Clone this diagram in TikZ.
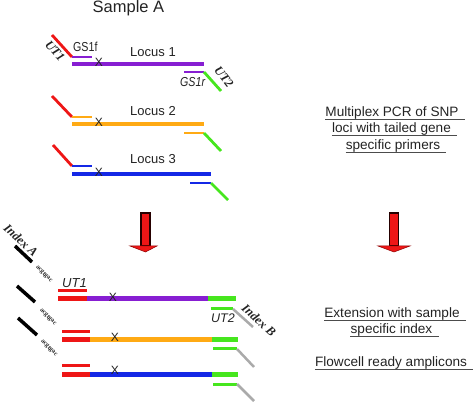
\documentclass[tikz,border=0pt]{standalone}
\usepackage{fontspec}
\usepackage{graphicx}
\setmainfont{Liberation Sans}
\newfontfamily\serifx{Liberation Serif}
\definecolor{cred}{RGB}{238,22,22}
\definecolor{cpur}{RGB}{135,30,210}
\definecolor{corg}{RGB}{255,170,20}
\definecolor{cblu}{RGB}{20,40,230}
\definecolor{cgrn}{RGB}{70,230,30}
\definecolor{cgry}{RGB}{170,170,170}
\definecolor{ctxt}{RGB}{35,35,35}
\newcommand{\narrow}[1]{\scalebox{0.82}[1]{#1}}
\tikzset{
  mainbar/.style={line width=4.5pt},
  shortbar/.style={line width=2.5pt},
  tailline/.style={line width=2.8pt},
  bmain/.style={line width=5pt},
  bshort/.style={line width=3pt},
  idxline/.style={line width=3.5pt,black},
  greyline/.style={line width=2.5pt,cgry},
  lbl/.style={inner sep=0pt,text=ctxt},
  locuslbl/.style={lbl,anchor=base,font=\fontsize{13}{15}\selectfont},
  xmark/.style={lbl,font=\fontsize{12}{13}\selectfont},
  gslbl/.style={lbl,font=\fontsize{13}{14}\selectfont},
  utser/.style={lbl,font=\serifx\bfseries\itshape\fontsize{12.5}{14}\selectfont},
  idxlbl/.style={lbl,font=\serifx\bfseries\itshape\fontsize{12.5}{14}\selectfont},
  seqlbl/.style={lbl,font=\serifx\bfseries\fontsize{6.5}{8}\selectfont},
  rtxt/.style={lbl,anchor=base,font=\fontsize{13.6}{16}\selectfont},
  uline/.style={line width=0.8pt,black!70},
  ashaft/.style={fill=cred,draw=black!85!red,line width=1.1pt},
  ahead/.style={fill=cred,draw=red!55!black,line width=0.5pt}
}
\begin{document}
\begin{tikzpicture}[x=1pt,y=-1pt]
\useasboundingbox (0,0) rectangle (474,403);
% title
\node[lbl,anchor=base,font=\fontsize{16.5}{18}\selectfont] (title) at (128.5,13) {Sample A};
% ---------- Locus 1 ----------
\draw[tailline,cred] (52,35) -- (72,57);
\draw[shortbar,cpur] (72,57) -- (92,57);
\draw[mainbar,cpur] (72,64) -- (204,64);
\draw[shortbar,cpur] (184,72) -- (204,72);
\draw[tailline,cgrn] (204,72) -- (221,91);
\node[utser,rotate=-48] (ut1a) at (55,51) {UT1};
\node[gslbl,anchor=base west] (gs1f) at (73,51.5) {\narrow{GS1f}};
\node[xmark] (x1) at (99,62) {X};
\node[locuslbl] (l1) at (153,57) {Locus 1};
\node[gslbl,anchor=base west,font=\itshape\fontsize{13}{14}\selectfont] (gs1r) at (180,86.5) {\narrow{GS1r}};
\node[utser,rotate=-52] (ut2a) at (224,77) {UT2};
% ---------- Locus 2 ----------
\draw[tailline,cred] (52,96) -- (72,117);
\draw[shortbar,corg] (72,117) -- (92,117);
\draw[mainbar,corg] (72,124) -- (204,124);
\draw[shortbar,corg] (184,133) -- (204,133);
\draw[tailline,cgrn] (204,133) -- (221,151);
\node[xmark] (x2) at (99,122) {X};
\node[locuslbl] (l2) at (153,116) {Locus 2};
% ---------- Locus 3 ----------
\draw[tailline,cred] (53,145) -- (72,166);
\draw[shortbar,cblu] (72,166) -- (92,166);
\draw[mainbar,cblu] (72,174) -- (211,174);
\draw[shortbar,cblu] (190,183) -- (211,183);
\draw[tailline,cgrn] (211,183) -- (228,200);
\node[xmark] (x3) at (99,172) {X};
\node[locuslbl] (l3) at (153,164) {Locus 3};
% ---------- arrows ----------
\filldraw[ashaft] (141,213) rectangle (150,246);
\filldraw[ahead] (130,246) -- (157,246) -- (145.5,252) -- cycle;
\filldraw[ashaft] (389.5,213) rectangle (398.5,246);
\filldraw[ahead] (378,246) -- (410,246) -- (394,252) -- cycle;
% ---------- right texts ----------
\node[rtxt] (m1) at (392,116.5) {Multiplex PCR of SNP};
\node[rtxt] (m2) at (391.5,133) {loci with tailed gene};
\node[rtxt] (m3) at (393,149.5) {specific primers};
\node[rtxt] (e1) at (392,318) {Extension with sample};
\node[rtxt] (e2) at (391.5,334) {specific index};
\node[rtxt] (f1) at (391,366.5) {Flowcell ready amplicons};
\foreach \n in {m1,m2,m3,e1,e2,f1}{
  \draw[uline] ([yshift=-2.6pt]\n.base west) -- ([xshift=6pt,yshift=-2.6pt]\n.base east);
}
% ---------- bottom row 1 ----------
\draw[idxline] (15,246) -- (32,262);
\node[idxlbl,rotate=-43] (ia) at (21,240) {Index A};
\node[seqlbl,rotate=-45] (s1) at (44,274) {acgtgac};
\draw[bshort,cred] (58,291) -- (87,291);
\draw[bmain,cred] (58,299) -- (87,299);
\draw[bmain,cpur] (87,299) -- (208,299);
\draw[bmain,cgrn] (208,299) -- (236,299);
\node[lbl,anchor=base,font=\itshape\fontsize{13}{15}\selectfont] (ut1b) at (74.5,288) {UT1};
\node[xmark] (x4) at (113,297) {X};
\draw[bshort,cgrn] (211,309) -- (233,309);
\draw[greyline] (233,309) -- (253,327);
\node[lbl,anchor=base,font=\itshape\fontsize{12.5}{15}\selectfont] (ut2b) at (223,323) {UT2};
\node[idxlbl,rotate=-43] (ib) at (259,320) {Index B};
% ---------- bottom row 2 ----------
\draw[idxline] (17,286) -- (35,302);
\node[seqlbl,rotate=-45] (s2) at (48,317) {acgtgac};
\draw[bshort,cred] (62,332) -- (90,332);
\draw[bmain,cred] (62,340) -- (90,340);
\draw[bmain,corg] (90,340) -- (212,340);
\draw[bmain,cgrn] (212,340) -- (238,340);
\node[xmark] (x5) at (115,337) {X};
\draw[bshort,cgrn] (213,349) -- (237,349);
\draw[greyline] (237,349) -- (254,367);
% ---------- bottom row 3 ----------
\draw[idxline] (18,318) -- (37,335);
\node[seqlbl,rotate=-45] (s3) at (49,348) {acgtgac};
\draw[bshort,cred] (62,365) -- (90,365);
\draw[bmain,cred] (62,374) -- (90,374);
\draw[bmain,cblu] (90,374) -- (212,374);
\draw[bmain,cgrn] (212,374) -- (238,374);
\node[xmark] (x6) at (115,370) {X};
\draw[bshort,cgrn] (213,384) -- (237,384);
\draw[greyline] (237,384) -- (254,401);
\end{tikzpicture}
\end{document}
